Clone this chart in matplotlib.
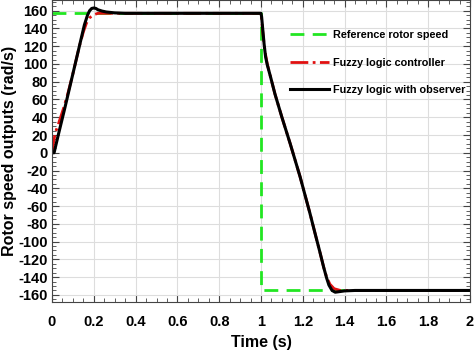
import matplotlib
matplotlib.use("Agg")
import matplotlib.pyplot as plt
from matplotlib.ticker import MultipleLocator

plt.rcParams['font.family'] = ['Liberation Sans', 'DejaVu Sans']
plt.rcParams['font.weight'] = 'bold'
plt.rcParams['axes.unicode_minus'] = False

# Reference rotor speed (step at t = 1 s)
t_ref = [0, 1.0, 1.0, 2.0]
w_ref = [157, 157, -155, -155]

# Fuzzy logic controller
t_flc = [0, 0.005, 0.015, 0.03, 0.055, 0.075, 0.1, 0.13, 0.15, 0.165, 0.18, 0.2, 0.22, 0.25,
         1.0, 1.003, 1.01, 1.02, 1.03, 1.045, 1.067, 1.1, 1.14, 1.187, 1.234, 1.26, 1.282,
         1.3, 1.314, 1.33, 1.35, 1.38, 2.0]
w_flc = [0, 8, 22, 32, 50, 66, 89, 119, 136, 146, 152, 155.5, 157, 157,
         157, 150, 132, 113, 100, 86, 66, 40, 10, -27, -68, -92, -112,
         -129, -140, -148, -153, -155, -155]

# Fuzzy logic with observer
t_obs = [0, 0.01, 0.03, 0.06, 0.1, 0.13, 0.155, 0.17, 0.18, 0.19, 0.2, 0.21, 0.22, 0.24,
         0.26, 0.3, 0.35, 1.0, 1.003, 1.008, 1.015, 1.022, 1.03, 1.045, 1.067, 1.1, 1.14,
         1.187, 1.234, 1.26, 1.282, 1.3, 1.314, 1.325, 1.34, 1.355, 1.37, 1.4, 1.45, 2.0]
w_obs = [0, 0, 20, 49, 89, 119, 144, 155, 160, 162.5, 163, 162.5, 161, 159.5,
         158.5, 157.5, 157, 157, 153, 140, 122, 108, 99, 86, 66, 40, 10,
         -27, -68, -92, -112, -129, -141, -149, -155, -157, -156.5, -155.5, -155, -155]

fig = plt.figure(figsize=(4.74, 3.58), dpi=100)
ax = fig.add_axes([52 / 474, 56 / 358, 418 / 474, 302 / 358])

ax.plot(t_ref, w_ref, color='#22e622', linestyle=(0, (5, 3)), linewidth=2, label='Reference rotor speed')
ax.plot(t_flc, w_flc, color='#e01010', linestyle='-.', linewidth=2, label='Fuzzy logic controller')
ax.plot(t_obs, w_obs, color='black', linewidth=2.2, label='Fuzzy logic with observer')

ax.set_xlim(0, 2)
ax.set_ylim(-168, 172)
ax.xaxis.set_major_locator(MultipleLocator(0.2))
ax.xaxis.set_minor_locator(MultipleLocator(0.05))
ax.yaxis.set_major_locator(MultipleLocator(20))
ax.yaxis.set_minor_locator(MultipleLocator(5))
ax.set_yticks(range(-160, 161, 20))
ax.set_xticks([0, 0.2, 0.4, 0.6, 0.8, 1, 1.2, 1.4, 1.6, 1.8, 2])
ax.set_xticklabels(['0', '0.2', '0.4', '0.6', '0.8', '1', '1.2', '1.4', '1.6', '1.8', '2'])
ax.tick_params(which='both', direction='in', top=True, right=True, colors='#444444',
               labelcolor='black', labelsize=10.5)
ax.tick_params(which='major', length=5)
ax.tick_params(which='minor', length=3)
ax.tick_params(axis='x', pad=9)
ax.tick_params(axis='y', pad=3)
ax.grid(True, color='#dddddd', linewidth=0.8)
for s in ax.spines.values():
    s.set_color('#444444')

ax.set_xlabel('Time (s)', fontsize=11.5, fontweight='bold', labelpad=5)
ax.set_ylabel('Rotor speed outputs (rad/s)', fontsize=11.5, fontweight='bold', labelpad=1)

ax.legend(loc='upper left', bbox_to_anchor=(0.569, 0.90), frameon=False, fontsize=7.8,
          handlelength=3.6, handletextpad=0.4, labelspacing=1.6, borderpad=0, borderaxespad=0)

fig.savefig('out.png', dpi=100)
